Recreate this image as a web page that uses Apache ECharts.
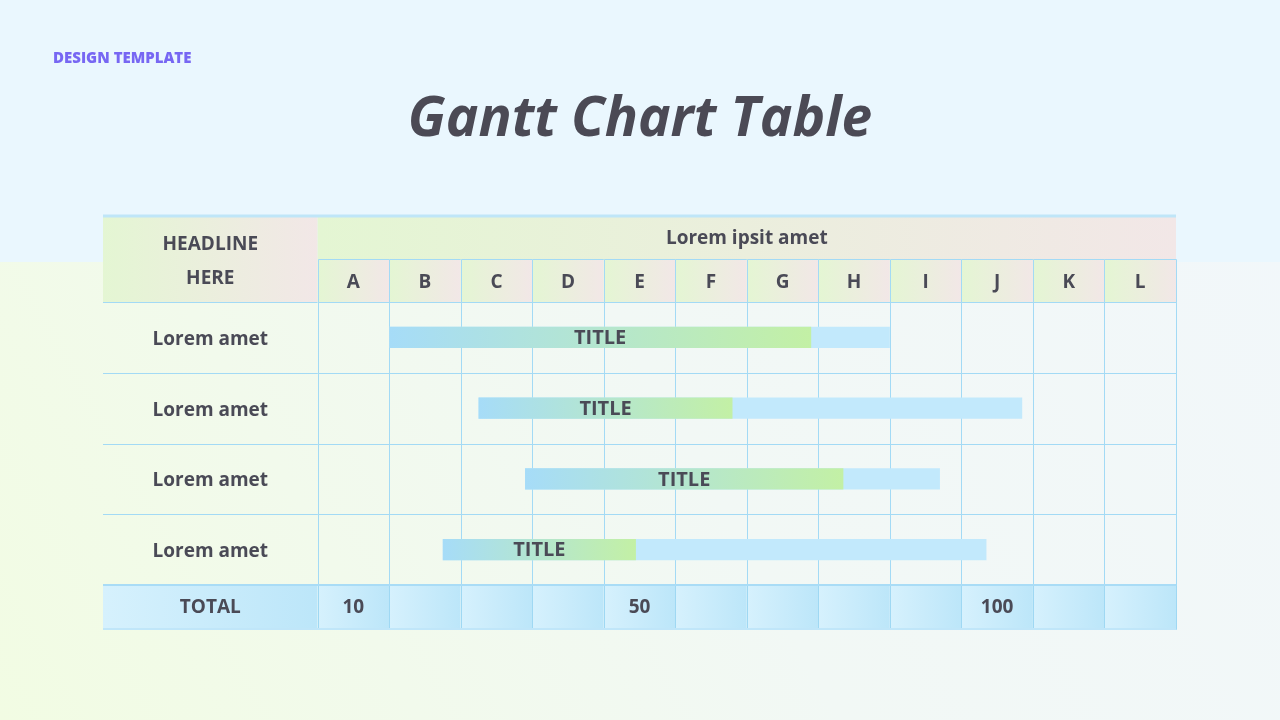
<!DOCTYPE html>
<html>
<head>
<meta charset="utf-8">
<script src="https://cdn.jsdelivr.net/npm/echarts@6/dist/echarts.min.js"></script>
<style>
html,body{margin:0;padding:0;width:1280px;height:720px;overflow:hidden;}
#chart{width:1280px;height:720px;}
</style>
</head>
<body>
<div id="chart"></div>
<script>
// ---------- data ----------
const colLabels = ['A','B','C','D','E','F','G','H','I','J','K','L'];
const colValues = [10,20,30,40,50,60,70,80,90,100,110,120];
const rowLabels = ['Lorem amet','Lorem amet','Lorem amet','Lorem amet'];
const taskTitles = ['TITLE','TITLE','TITLE','TITLE'];
const taskStart = [15, 27.5, 34, 22.5];
const taskProgress = [74, 63, 78.5, 49.5];
const taskEnd = [85, 103.5, 92, 98.5];
const totalValues = [10, '', '', '', 50, '', '', '', '', 100, '', ''];
const headerTitle = 'Lorem ipsit amet';
const headlineText = 'HEADLINE\nHERE';
const totalLabel = 'TOTAL';
const chartTitle = 'Gantt Chart Table';
const chartKicker = 'DESIGN TEMPLATE';

// ---------- layout / style constants ----------
const X_MIN = -25, X_MAX = 125;      // axis range; first column spans [-25, 5]
const LABEL_LEFT = -25, LABEL_RIGHT = 5;
const COL_W = 10;
const TEXT = '#4a4a56';
const LINE = '#a3daf5';
const FONT = '"Open Sans", "Noto Sans", sans-serif';
const F19 = '700 19px ' + FONT;

function lg(c0, c1) {
  return {type:'linear', x:0, y:0, x2:1, y2:0, colorStops:[{offset:0,color:c0},{offset:1,color:c1}]};
}
const headGrad = () => lg('#e4f6d3', '#f2e7e7');
const totalGrad = () => lg('#d6f1fd', '#bce6f9');
const crisp = v => Math.round(v) + 0.5;

function rectFrom(api, xa, xb, yc, hpx) {
  const p0 = api.coord([xa, yc]);
  const p1 = api.coord([xb, yc]);
  return {x:p0[0], y:p0[1]-hpx/2, width:p1[0]-p0[0], height:hpx};
}
function crispRect(r) {
  const x0 = crisp(r.x), y0 = crisp(r.y), x1 = crisp(r.x + r.width), y1 = crisp(r.y + r.height);
  return {x:x0, y:y0, width:x1-x0, height:y1-y0};
}

const chart = echarts.init(document.getElementById('chart'));

const option = {
  animation: false,
  title: [
    {text: chartKicker, left: 48, top: 46, textStyle:{fontFamily:FONT, fontWeight:800, fontSize:15, color:'#7767f3'}},
    {text: chartTitle, left: 'center', top: 88, textStyle:{fontFamily:FONT, fontWeight:700, fontStyle:'italic', fontSize:55, color:'#4b4a55'}}
  ],
  graphic: [
    {type:'rect', z:-10, silent:true, shape:{x:0,y:0,width:1280,height:720},
     style:{fill:{type:'linear', x:0, y:1, x2:1, y2:0, colorStops:[{offset:0,color:'#f2fce3'},{offset:0.5,color:'#f2f8f5'},{offset:1,color:'#f2f7fb'}]}}},
    {type:'rect', z:-9, silent:true, shape:{x:0,y:0,width:1280,height:262}, style:{fill:'#eaf7fe'}}
  ],
  grid: [
    {left:103, right:104, top:216, height:86},
    {left:103, right:104, top:302, height:283},
    {left:103, right:104, top:585, height:44}
  ],
  xAxis: [0,1,2].map(i => ({type:'value', gridIndex:i, min:X_MIN, max:X_MAX, show:false})),
  yAxis: [
    {type:'category', gridIndex:0, data:['top','sub'], inverse:true, show:false},
    {type:'category', gridIndex:1, data:rowLabels, inverse:true, show:false},
    {type:'category', gridIndex:2, data:['total'], show:false}
  ],
  series: [
    // header: headline cell spanning both header rows
    {type:'custom', xAxisIndex:0, yAxisIndex:0, data:[[LABEL_LEFT, 0]],
     renderItem(params, api){
       const a = api.coord([LABEL_LEFT, 0]), b = api.coord([LABEL_RIGHT, 1]);
       const h = api.size([0,1])[1];
       const y0 = a[1]-h/2, y1 = b[1]+h/2;
       return {type:'group', children:[
         {type:'rect', shape:{x:a[0], y:y0, width:b[0]-a[0], height:y1-y0}, style:{fill:headGrad()}},
         {type:'text', style:{text:headlineText, x:(a[0]+b[0])/2, y:(y0+y1)/2+3, align:'center', verticalAlign:'middle',
           font:F19, fill:TEXT, lineHeight:34}}
       ]};
     }},
    // header: spanning title over columns
    {type:'custom', xAxisIndex:0, yAxisIndex:0, data:[[colValues[0], 0]],
     renderItem(params, api){
       const xa = colValues[0]-COL_W/2, xb = colValues[colValues.length-1]+COL_W/2;
       const h = api.size([0,1])[1];
       const r = rectFrom(api, xa, xb, 0, h);
       return {type:'group', children:[
         {type:'rect', shape:r, style:{fill:headGrad()}},
         {type:'text', style:{text:headerTitle, x:r.x+r.width/2, y:r.y+r.height/2+1, align:'center', verticalAlign:'middle',
           font:F19, fill:TEXT}}
       ]};
     }},
    // header: letters row
    {type:'custom', xAxisIndex:0, yAxisIndex:0, data:colValues.map(v => [v, 1]),
     renderItem(params, api){
       const v = api.value(0);
       const h = api.size([0,1])[1];
       const r = rectFrom(api, v-COL_W/2, v+COL_W/2, 1, h);
       return {type:'group', children:[
         {type:'rect', shape:r, style:{fill:headGrad()}},
         {type:'rect', shape:crispRect(r), style:{fill:'transparent', stroke:LINE, lineWidth:1}},
         {type:'text', style:{text:colLabels[params.dataIndex], x:r.x+r.width/2, y:r.y+r.height/2+2, align:'center', verticalAlign:'middle',
           font:F19, fill:TEXT}}
       ]};
     }},
    // top border of the table
    {type:'custom', xAxisIndex:0, yAxisIndex:0, data:[[X_MIN, 0]],
     renderItem(params, api){
       const a = api.coord([X_MIN, 0]), b = api.coord([X_MAX, 0]);
       const h = api.size([0,1])[1];
       return {type:'line', shape:{x1:a[0], y1:a[1]-h/2, x2:b[0], y2:a[1]-h/2}, style:{stroke:'#bfe6f8', lineWidth:3}};
     }},
    // body: row label cells and grid cells
    {type:'custom', xAxisIndex:1, yAxisIndex:1, z:1,
     data: rowLabels.map((l,i) => [LABEL_LEFT, i]),
     renderItem(params, api){
       const row = api.value(1);
       const h = api.size([0,1])[1];
       const children = [];
       const a = api.coord([LABEL_LEFT, row]);
       const b = api.coord([LABEL_RIGHT, row]);
       const yt = crisp(a[1]-h/2), yb = crisp(a[1]+h/2);
       children.push({type:'line', shape:{x1:a[0], y1:yt, x2:b[0], y2:yt}, style:{stroke:LINE, lineWidth:1}});
       children.push({type:'line', shape:{x1:a[0], y1:yb, x2:b[0], y2:yb}, style:{stroke:LINE, lineWidth:1}});
       children.push({type:'text', style:{text:rowLabels[params.dataIndex], x:(a[0]+b[0])/2, y:a[1]+2, align:'center', verticalAlign:'middle',
         font:F19, fill:TEXT}});
       colValues.forEach(v => {
         const r = crispRect(rectFrom(api, v-COL_W/2, v+COL_W/2, row, h));
         children.push({type:'rect', shape:r, style:{fill:'transparent', stroke:LINE, lineWidth:1}});
       });
       return {type:'group', children};
     }},
    // body: gantt bars
    {type:'custom', xAxisIndex:1, yAxisIndex:1, z:3,
     data: taskStart.map((s,i) => [s, taskProgress[i], taskEnd[i], i]),
     encode:{x:[0,1,2], y:3},
     renderItem(params, api){
       const row = api.value(3);
       const h = api.size([0,1])[1]*0.3;
       const full = rectFrom(api, api.value(0), api.value(2), row, h);
       const prog = rectFrom(api, api.value(0), api.value(1), row, h);
       return {type:'group', children:[
         {type:'rect', shape:full, style:{fill:'#c2e9fc'}},
         {type:'rect', shape:prog, style:{fill:lg('#a6dcf8', '#c3f0a5')}},
         {type:'text', style:{text:taskTitles[params.dataIndex], x:prog.x+prog.width/2, y:prog.y+prog.height/2+1, align:'center', verticalAlign:'middle',
           font:'700 20px '+FONT, fill:TEXT}}
       ]};
     }},
    // total row
    {type:'custom', xAxisIndex:2, yAxisIndex:2, data:[[LABEL_LEFT, 0]],
     renderItem(params, api){
       const h = api.size([0,1])[1];
       const r = rectFrom(api, LABEL_LEFT, LABEL_RIGHT, 0, h);
       return {type:'group', children:[
         {type:'rect', shape:r, style:{fill:totalGrad()}},
         {type:'text', style:{text:totalLabel, x:r.x+r.width/2, y:r.y+r.height/2+1, align:'center', verticalAlign:'middle',
           font:F19, fill:TEXT}}
       ]};
     }},
    {type:'custom', xAxisIndex:2, yAxisIndex:2, data:colValues.map(v => [v, 0]),
     renderItem(params, api){
       const v = api.value(0);
       const h = api.size([0,1])[1];
       const r = rectFrom(api, v-COL_W/2, v+COL_W/2, 0, h);
       return {type:'group', children:[
         {type:'rect', shape:r, style:{fill:totalGrad()}},
         {type:'rect', shape:crispRect(r), style:{fill:'transparent', stroke:'#9fd8f3', lineWidth:1}},
         {type:'text', style:{text:String(totalValues[params.dataIndex]), x:r.x+r.width/2, y:r.y+r.height/2+1, align:'center', verticalAlign:'middle',
           font:F19, fill:TEXT}}
       ]};
     }},
    {type:'custom', xAxisIndex:2, yAxisIndex:2, z:4, data:[[X_MIN, 0]],
     renderItem(params, api){
       const a = api.coord([X_MIN, 0]), b = api.coord([X_MAX, 0]);
       const h = api.size([0,1])[1];
       return {type:'group', children:[
         {type:'line', shape:{x1:a[0], y1:a[1]-h/2, x2:b[0], y2:a[1]-h/2}, style:{stroke:'#a9dcf6', lineWidth:2}},
         {type:'line', shape:{x1:a[0], y1:a[1]+h/2, x2:b[0], y2:a[1]+h/2}, style:{stroke:'#c0e6f9', lineWidth:2}}
       ]};
     }}
  ]
};
chart.setOption(option);
</script>
</body>
</html>
